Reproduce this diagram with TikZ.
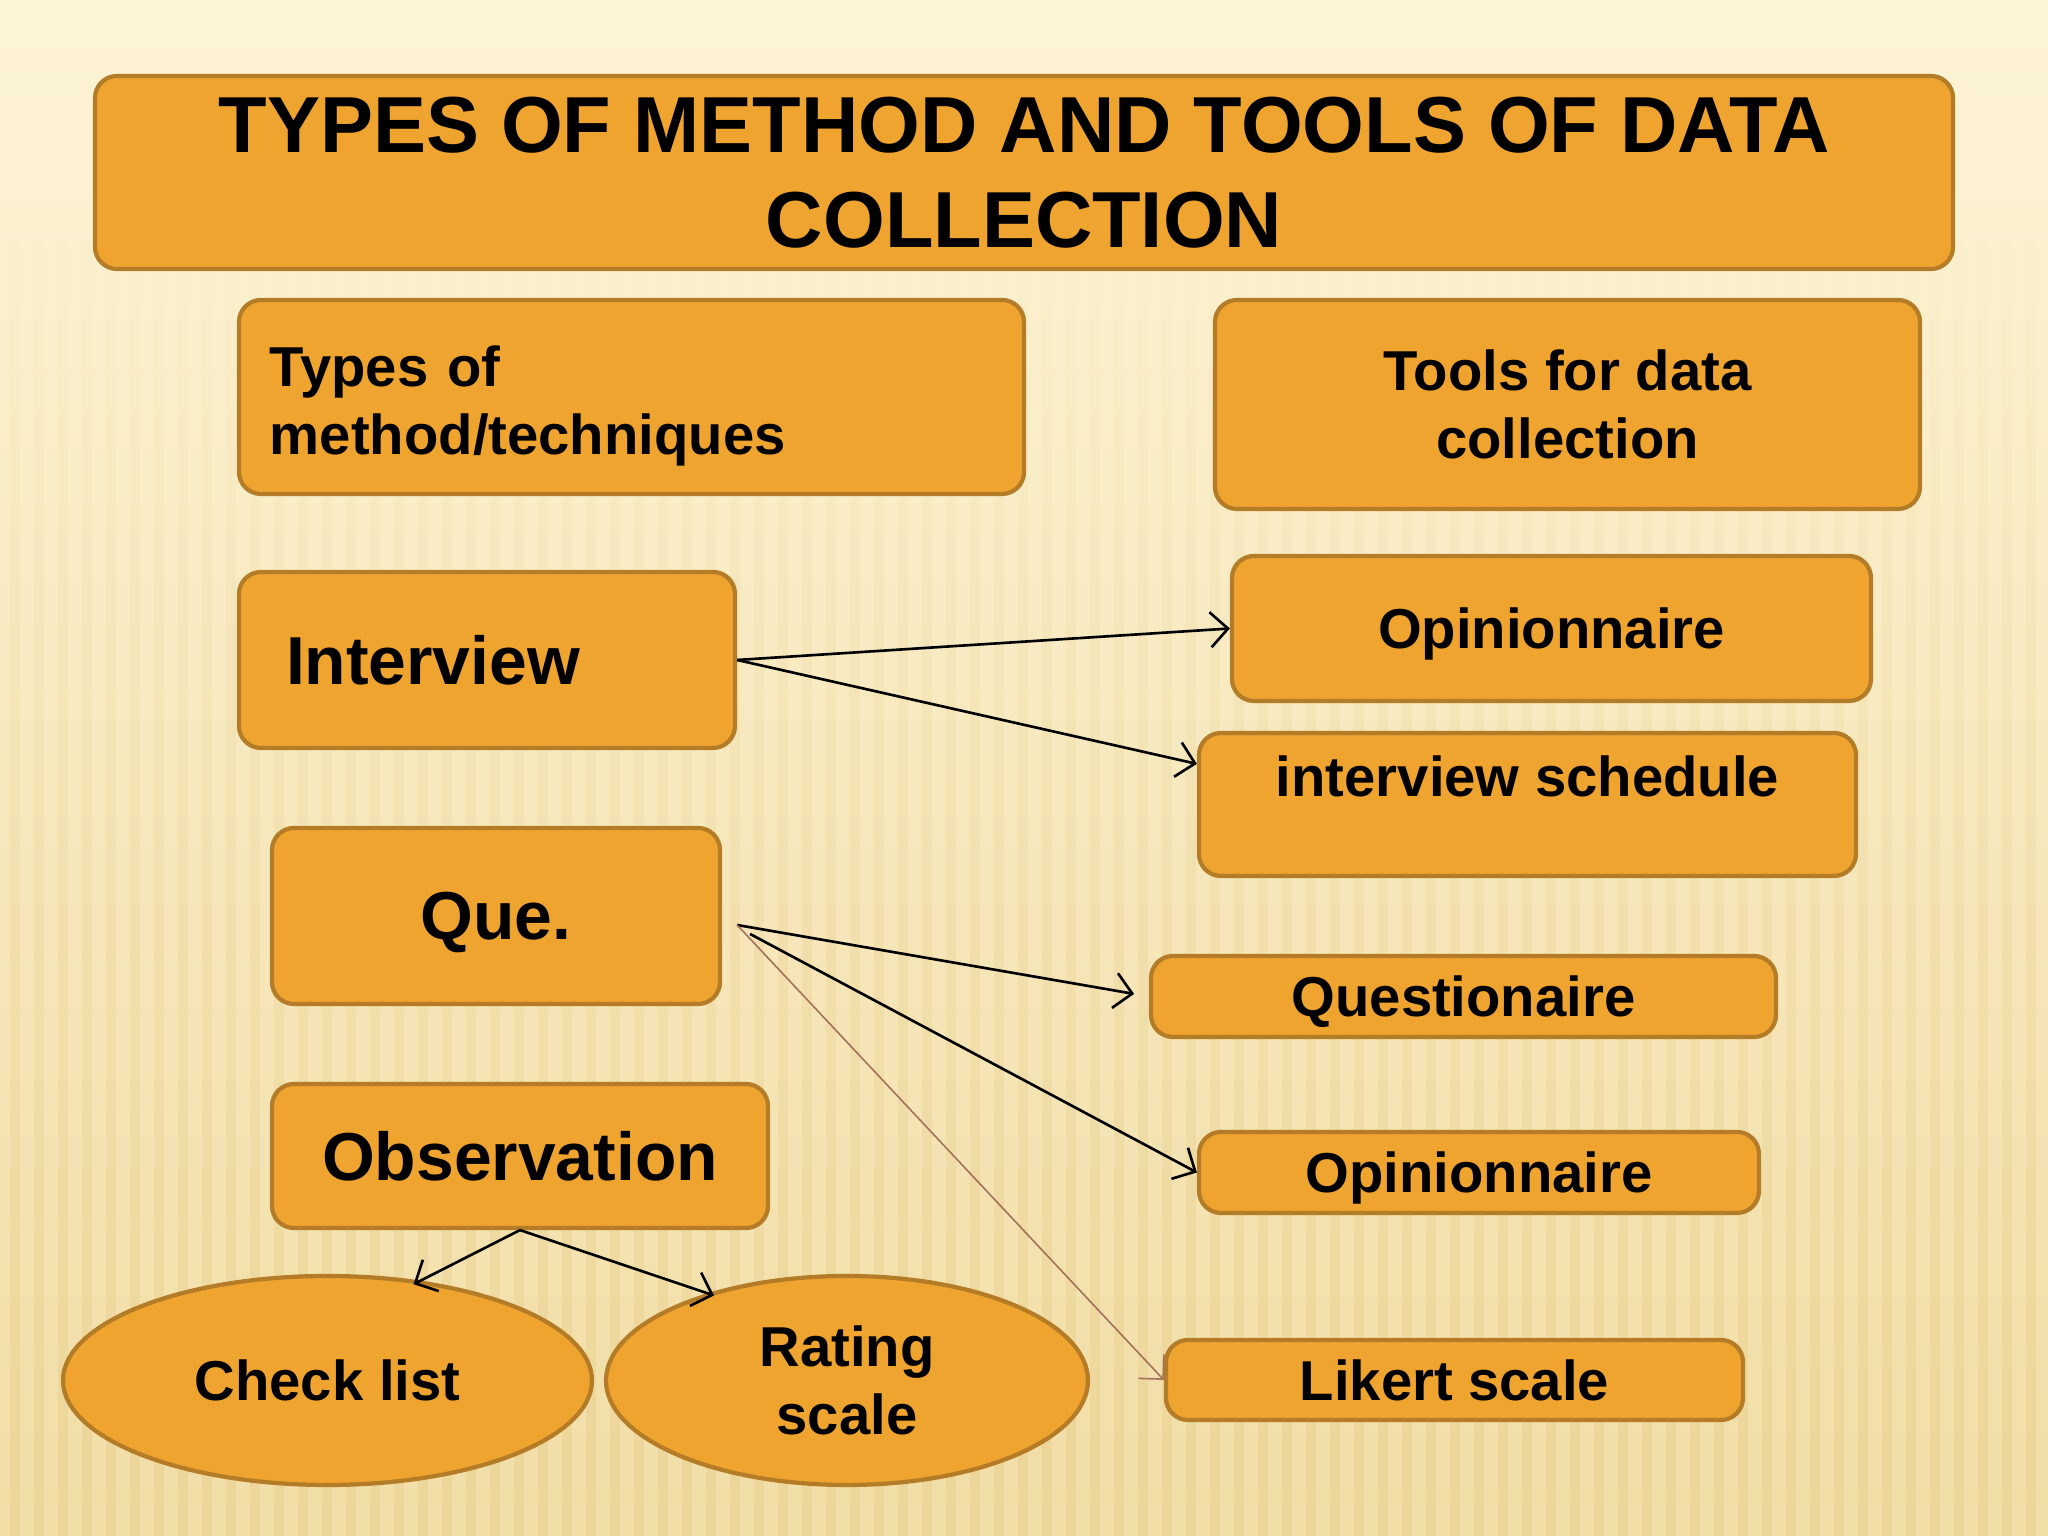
\documentclass[tikz,border=0pt]{standalone}
\usepackage{fontspec}
\setmainfont{Liberation Sans}
\usetikzlibrary{arrows.meta,shapes,fadings}
\definecolor{boxfill}{HTML}{F0A430}
\definecolor{boxline}{HTML}{B47C26}
\definecolor{paperhi}{HTML}{FDF4D6}
\definecolor{paperlo}{HTML}{F1DDA6}
\definecolor{stripe}{HTML}{E6CC88}
\definecolor{likertline}{HTML}{A5705A}
\tikzstyle{box}=[rectangle,rounded corners=0.22cm,draw=boxline,fill=boxfill,line width=1.2pt,inner sep=0pt,align=center,text depth=0pt,font=\bfseries\fontsize{16}{19.4}\selectfont]
\tikzstyle{bigbox}=[box,text depth=-2pt,font=\bfseries\fontsize{19.3}{23}\selectfont]
\tikzstyle{oval}=[ellipse,draw=boxline,fill=boxfill,line width=1.2pt,inner sep=0pt,align=center,text depth=0pt,font=\bfseries\fontsize{16}{19.4}\selectfont]
\tikzstyle{edge}=[draw,line width=0.75pt,-{Straight Barb[length=5pt,width=10pt]}]
\tikzstyle{faintedge}=[edge,draw=likertline,line width=0.45pt]

\begin{document}
\begin{tikzpicture}
    \useasboundingbox (0,0) rectangle (20.48,15.36);
    % paper background with light stripes
    \shade[top color=paperhi, bottom color=paperlo] (0,0) rectangle (20.48,15.36);
    \foreach \x in {0.1,0.34,...,20.4}
        \fill[stripe, opacity=0.45, path fading=north] (\x,0) rectangle +(0.1,13);
    % heading
    \node[box, minimum width=18.58cm, minimum height=1.93cm,
          font=\bfseries\fontsize{22.6}{27}\selectfont] (title) at (10.24,13.635)
          {TYPES OF METHOD AND TOOLS OF DATA\\COLLECTION};
    % the two column heads
    \node[box, minimum width=7.85cm, minimum height=1.94cm, text width=7.23cm,
          align=left, text depth=17.4pt] (methods) at (6.315,11.39) {Types of\\method/techniques};
    \node[box, minimum width=7.05cm, minimum height=2.09cm] (tools) at (15.675,11.315)
          {Tools for data\\collection};
    % methods on the left
    \node[bigbox, minimum width=4.96cm, minimum height=1.76cm, text width=4.02cm,
          align=left] (interview) at (4.87,8.76) {Interview};
    \node[bigbox, minimum width=4.48cm, minimum height=1.76cm] (que) at (4.96,6.2) {Que.};
    \node[bigbox, minimum width=4.96cm, minimum height=1.44cm] (obs) at (5.2,3.8) {Observation};
    % tools on the right
    \foreach \pos/\name/\w/\h/\txt in {{(15.515,9.075)/op1/6.39/1.45/Opinionnaire},
                                      {(15.275,7.315)/sched/6.57/1.43/interview schedule\\[-3pt]~},
                                      {(14.635,5.395)/quest/6.25/0.81/Questionaire},
                                      {(14.79,3.635)/op2/5.6/0.81/Opinionnaire},
                                      {(14.545,1.56)/likert/5.77/0.80/Likert scale}}
        \node[box, minimum width=\w cm, minimum height=\h cm] (\name) at \pos {\txt};
    \node[oval, minimum width=5.29cm, minimum height=2.09cm] (check) at (3.275,1.555) {Check list};
    \node[oval, minimum width=4.82cm, minimum height=2.09cm] (rate) at (8.47,1.555) {Rating\\scale};
    % loose starting points beside Que.
    \coordinate (queA) at ([shift={(0.15,-0.09)}]que.east);
    \coordinate (queB) at ([shift={(0.28,-0.18)}]que.east);
    % connect methods to their tools
    \foreach \source/\dest in {interview.east/op1.west, interview.east/sched.173,
                               queB/op2.west}
        \path[edge] (\source) -- (\dest);
    \path[edge, shorten >=-0.08cm] (obs.south) -- (check.47);
    \path[edge, shorten >=-0.07cm] (obs.south) -- (rate.148);
    \path[edge, shorten >=0.15cm] (queA) -- (quest.west);
    \path[faintedge] (queA) -- (likert.west);
\end{tikzpicture}
\end{document}
